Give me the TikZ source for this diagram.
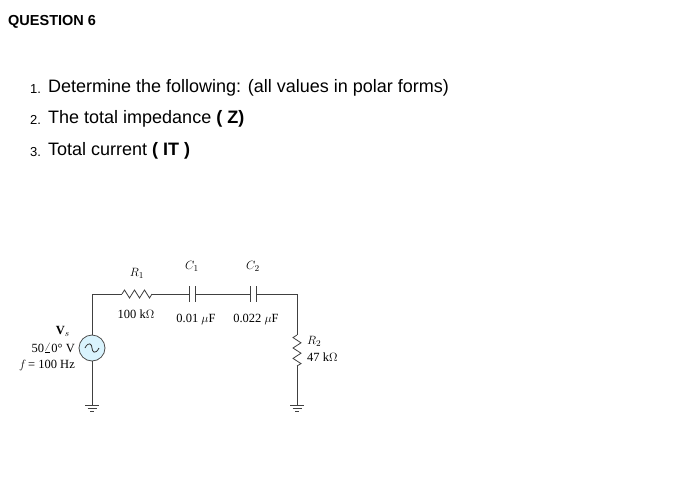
\documentclass[tikz,border=0pt]{standalone}
\usepackage{fontspec}
\setmainfont{Liberation Serif}
\newfontfamily\sans{Liberation Sans}
\usetikzlibrary{calc}
\begin{document}
\begin{tikzpicture}[x=1pt,y=-1pt,
  wire/.style={draw=black!75,line width=0.8pt},
  lab/.style={inner sep=0pt,font=\fontsize{12.5}{13}\selectfont},
  item/.style={inner sep=0pt,anchor=west,font=\sans\fontsize{18}{20}\selectfont},
  num/.style={inner sep=0pt,anchor=west,font=\sans\fontsize{13}{15}\selectfont}]
\path[use as bounding box,fill=white] (0,0) rectangle (700,477);
\node[inner sep=0pt,anchor=west,font=\sans\bfseries\fontsize{14.5}{16}\selectfont] (q) at (8,22) {QUESTION 6};
\node[num] (n1) at (30,89) {1.};
\node[item] (t1) at (48,88) {Determine the following: (all values in polar forms)};
\node[num] (n2) at (30,120) {2.};
\node[item] (t2) at (48,119) {The total impedance \textbf{( Z)}};
\node[num] (n3) at (30,152) {3.};
\node[item] (t3) at (48,151) {Total current \textbf{( IT )}};
% circuit
\coordinate (tl) at (92,294);
\coordinate (tr) at (297,294);
\coordinate (r1a) at (122,294); \coordinate (r1b) at (152,294);
\coordinate (c1a) at (189,294); \coordinate (c1b) at (195,294);
\coordinate (c2a) at (250,294); \coordinate (c2b) at (256,294);
\coordinate (r2a) at (297,335); \coordinate (r2b) at (297,366);
\coordinate (gl) at (92,405); \coordinate (gr) at (297,405);
\node[circle,draw=black!70,fill=cyan!15,line width=0.8pt,minimum size=26pt,inner sep=0pt] (vs) at (92,348) {};
\draw[black!80,line width=0.8pt] ($(vs)+(-7,0)$) .. controls ($(vs)+(-3.5,-7)$) and ($(vs)+(0,-4)$) .. (vs.center) .. controls ($(vs)+(0,4)$) and ($(vs)+(3.5,7)$) .. ($(vs)+(7,0)$);
\draw[wire] (vs.north) -- (tl) -- (r1a);
\draw[wire] (r1a) -- ++(2.5,-4) -- ++(5,8) -- ++(5,-8) -- ++(5,8) -- ++(5,-8) -- ++(5,8) -- (r1b);
\draw[wire] (r1b) -- (c1a);
\draw[wire] ($(c1a)+(0,-8)$) -- ($(c1a)+(0,8)$);
\draw[wire] ($(c1b)+(0,-8)$) -- ($(c1b)+(0,8)$);
\draw[wire] (c1b) -- (c2a);
\draw[wire] ($(c2a)+(0,-8)$) -- ($(c2a)+(0,8)$);
\draw[wire] ($(c2b)+(0,-8)$) -- ($(c2b)+(0,8)$);
\draw[wire] (c2b) -- (tr) -- (r2a);
\draw[wire] (r2a) -- ++(-4,2.6) -- ++(8,5.2) -- ++(-8,5.2) -- ++(8,5.2) -- ++(-8,5.2) -- ++(8,5.2) -- (r2b);
\draw[wire] (r2b) -- (gr);
\draw[wire] (vs.south) -- (gl);
\foreach \g in {gl,gr}{
  \draw[wire] ($(\g)+(-7,0)$) -- ($(\g)+(7,0)$);
  \draw[wire] ($(\g)+(-4.5,3)$) -- ($(\g)+(4.5,3)$);
  \draw[wire] ($(\g)+(-2,6)$) -- ($(\g)+(2,6)$);
}
\node[lab] (lr1) at (137,273) {$R_1$};
\node[lab] (lc1) at (192,266) {$C_1$};
\node[lab] (lc2) at (253,266) {$C_2$};
\node[lab] (vr1) at (136,314) {100 k$\Omega$};
\node[lab] (vc1) at (196,320) {0.01 $\mu$F};
\node[lab] (vc2) at (256,320) {0.022 $\mu$F};
\node[lab,anchor=west] (lr2) at (307,341) {$R_2$};
\node[lab,anchor=west] (vr2) at (307,357) {47 k$\Omega$};
\node[lab,anchor=east] (lvs) at (70,331) {$\mathbf{V}_s$};
\node[lab,anchor=east] (vvs) at (75,348) {50$\angle$0° V};
\node[lab,anchor=east] (fvs) at (75,365) {$f$\,= 100 Hz};
\end{tikzpicture}
\end{document}
